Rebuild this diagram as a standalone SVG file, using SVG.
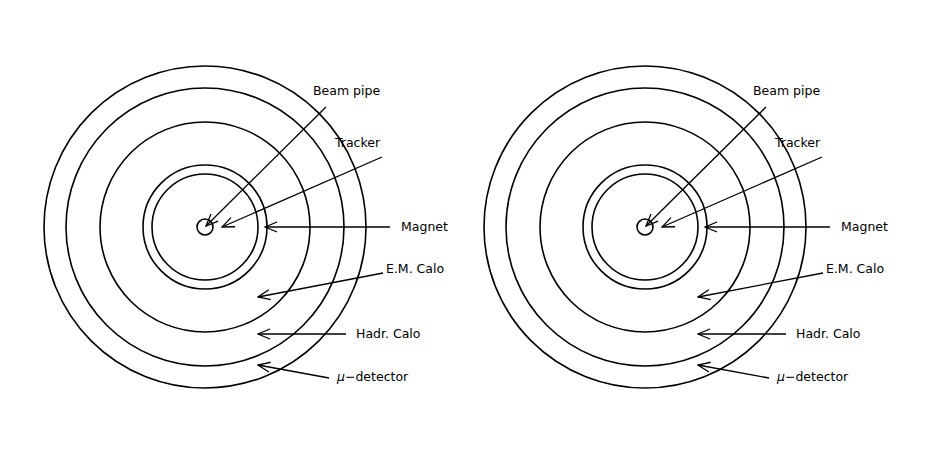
<svg xmlns="http://www.w3.org/2000/svg" width="949" height="476" viewBox="0 0 949 476">
<style>
circle{fill:none;stroke:#000;stroke-width:1.6}
.c{stroke:#000;stroke-width:1.3;fill:none}
text{font-family:"DejaVu Sans","Liberation Sans",sans-serif;font-size:12.5px;fill:#000}
</style>
<defs>
<marker id="a" markerWidth="14" markerHeight="12" refX="13" refY="6" orient="auto" markerUnits="userSpaceOnUse">
<path d="M1,1 L13,6 L1,11" fill="none" stroke="#000" stroke-width="1.3"/>
</marker>
<g id="det">
<circle cx="205" cy="227" r="8"/>
<circle cx="205" cy="227" r="53"/>
<circle cx="205" cy="227" r="62"/>
<circle cx="205" cy="227" r="105" stroke-width="2"/>
<circle cx="205" cy="227" r="139"/>
<circle cx="205" cy="227" r="161"/>
</g>
<g id="conn">
<line class="c" x1="326" y1="107" x2="206" y2="226" marker-end="url(#a)"/>
<line class="c" x1="382" y1="157" x2="222" y2="227" marker-end="url(#a)"/>
<line class="c" x1="390" y1="227" x2="265" y2="227" marker-end="url(#a)"/>
<line class="c" x1="383" y1="273" x2="258" y2="297" marker-end="url(#a)"/>
<line class="c" x1="346" y1="334" x2="258" y2="334" marker-end="url(#a)"/>
<line class="c" x1="329" y1="378" x2="258" y2="365" marker-end="url(#a)"/>
</g>
<g id="lab">
<text x="313" y="95">Beam pipe</text>
<text x="335" y="147">Tracker</text>
<text x="401" y="231">Magnet</text>
<text x="386" y="273">E.M. Calo</text>
<text x="356" y="338">Hadr. Calo</text>
<text x="337" y="381"><tspan font-style="italic">μ</tspan>−detector</text>
</g>
</defs>
<rect width="949" height="476" fill="#fff"/>
<g id="left">
<g id="rings-left"><use href="#det"/></g>
<g id="connectors-left"><use href="#conn"/></g>
<g id="labels-left"><use href="#lab"/></g>
</g>
<g id="right" transform="translate(440,0)">
<g id="rings-right"><use href="#det"/></g>
<g id="connectors-right"><use href="#conn"/></g>
<g id="labels-right"><use href="#lab"/></g>
</g>
</svg>
